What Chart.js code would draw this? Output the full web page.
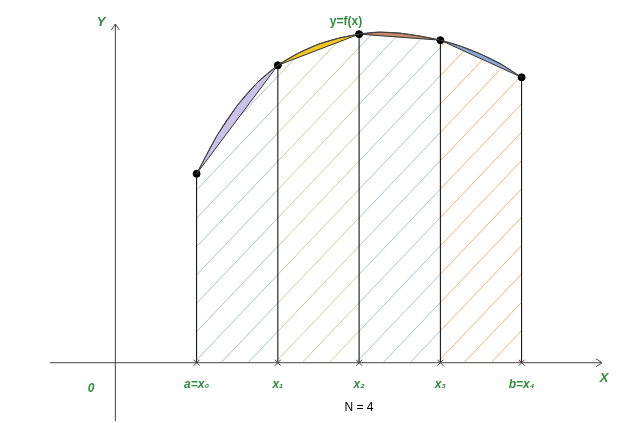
<!DOCTYPE html>
<html><head><meta charset="utf-8">
<script src="https://cdn.jsdelivr.net/npm/chart.js@4.4.0/dist/chart.umd.min.js"></script>
<style>html,body{margin:0;padding:0;background:#fff}#w{width:642px;height:423px}</style>
</head><body><div id="w"><canvas id="c"></canvas></div>
<script>
const nodeX = [1, 2, 3, 4, 5];
const nodeY = [1.88, 2.96, 3.27, 3.21, 2.84];
const nodeLabels = ["a=x₀", "x₁", "x₂", "x₃", "b=x₄"];
const curveX = [1,1.25,1.5,1.75,2,2.25,2.5,2.75,3,3.25,3.5,3.75,4,4.25,4.5,4.75,5];
const curveY = [1.88,2.26,2.56,2.79,2.96,3.08,3.17,3.23,3.27,3.29,3.28,3.25,3.21,3.15,3.07,2.97,2.84];
const sliverColors = ["#c9c1e9", "#f2c521", "#c78a6a", "#8fa7d3"];
const hatchColors = ["#a9bfd8", "#c9cf9a", "#b3c0d0", "#f2b27a"];
const green = "#2e8b3e";

const draw = {
  id: 'draw',
  beforeDatasetsDraw(ch) {
    const {ctx, scales:{x, y}} = ch;
    const px = v => x.getPixelForValue(v), py = v => y.getPixelForValue(v);
    const y0 = py(0);
    for (let i = 0; i < 4; i++) {
      ctx.save();
      ctx.beginPath();
      ctx.moveTo(px(nodeX[i]), y0);
      ctx.lineTo(px(nodeX[i]), py(nodeY[i]));
      ctx.lineTo(px(nodeX[i+1]), py(nodeY[i+1]));
      ctx.lineTo(px(nodeX[i+1]), y0);
      ctx.closePath(); ctx.clip();
      ctx.strokeStyle = hatchColors[i]; ctx.lineWidth = 1;
      for (let s = -400; s < 700; s += 27) {
        ctx.beginPath(); ctx.moveTo(s, y0); ctx.lineTo(s + 400, y0 - 400 * 1.05); ctx.stroke();
      }
      ctx.restore();
      ctx.beginPath();
      ctx.moveTo(px(nodeX[i]), py(nodeY[i]));
      curveX.forEach((cx, k) => { if (cx > nodeX[i] && cx <= nodeX[i+1]) ctx.lineTo(px(cx), py(curveY[k])); });
      ctx.closePath();
      ctx.fillStyle = sliverColors[i]; ctx.fill();
      ctx.strokeStyle = "#333"; ctx.lineWidth = 1; ctx.stroke();
    }
    ctx.strokeStyle = "#000"; ctx.lineWidth = 1;
    nodeX.forEach((v, i) => { ctx.beginPath(); ctx.moveTo(px(v), y0); ctx.lineTo(px(v), py(nodeY[i])); ctx.stroke(); });
    const ox = px(0);
    ctx.strokeStyle = "#444";
    ctx.beginPath(); ctx.moveTo(50, y0); ctx.lineTo(602, y0); ctx.stroke();
    ctx.beginPath(); ctx.moveTo(596, y0 - 4); ctx.lineTo(602, y0); ctx.lineTo(596, y0 + 4); ctx.stroke();
    ctx.beginPath(); ctx.moveTo(ox, 421); ctx.lineTo(ox, 24); ctx.stroke();
    ctx.beginPath(); ctx.moveTo(ox - 4, 30); ctx.lineTo(ox, 24); ctx.lineTo(ox + 4, 30); ctx.stroke();
    nodeX.forEach(v => { const p = px(v); ctx.beginPath(); ctx.moveTo(p-3,y0-3); ctx.lineTo(p+3,y0+3); ctx.moveTo(p+3,y0-3); ctx.lineTo(p-3,y0+3); ctx.stroke(); });
    ctx.fillStyle = green; ctx.font = "italic bold 12px 'Liberation Sans', Arial"; ctx.textAlign = "center"; ctx.textBaseline = "middle";
    nodeX.forEach((v, i) => ctx.fillText(nodeLabels[i], px(v), 385));
    ctx.fillText("0", 91, 389);
    ctx.font = "italic bold 13px 'Liberation Sans', Arial";
    ctx.fillText("Y", 101, 22);
    ctx.fillText("X", 604, 378);
    ctx.font = "bold 12px 'Liberation Sans', Arial";
    ctx.fillText("y=f(x)", 346, 22);
    ctx.fillStyle = "#000"; ctx.font = "12px 'Liberation Sans', Arial";
    ctx.fillText("N = 4", 359, 408);
  }
};

new Chart(document.getElementById('c'), {
  type: 'scatter',
  data: { datasets: [
    { data: curveX.map((v,i)=>({x:v,y:curveY[i]})), showLine: true, borderColor: '#444', borderWidth: 1, pointRadius: 0, cubicInterpolationMode: 'monotone' },
    { data: nodeX.map((v,i)=>({x:v,y:nodeY[i]})), showLine: false, pointRadius: 3.5, backgroundColor: '#000', borderColor: '#000' }
  ]},
  options: {
    responsive: true, maintainAspectRatio: false, animation: false,
    layout: { padding: 0 },
    plugins: { legend: { display: false }, tooltip: { enabled: false } },
    scales: {
      x: { type: 'linear', display: false, min: -1.358, max: 6.42 },
      y: { type: 'linear', display: false, min: -0.55, max: 3.56 }
    }
  },
  plugins: [draw]
});
</script></body></html>
